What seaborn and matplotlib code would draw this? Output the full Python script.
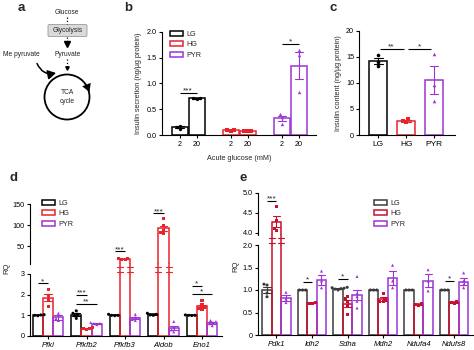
import numpy as np
import pandas as pd
import matplotlib
matplotlib.use("Agg")
import matplotlib.pyplot as plt
import matplotlib.transforms as mtransforms
from matplotlib.patches import Patch, FancyBboxPatch, Circle
from matplotlib.lines import Line2D
import seaborn as sns

# ---------------- data ----------------
CONDS = ["LG", "HG", "PYR"]

# panel b: insulin secretion (ng/ug protein), acute glucose 2 / 20 mM
B_GLUCOSE = ["2", "20"]
B_LG = [[0.18, 0.15, 0.11], [0.72, 0.71, 0.70]]
B_HG = [[0.10, 0.09, 0.08], [0.08, 0.07, 0.08]]
B_PYR = [[0.40, 0.35, 0.22], [1.65, 1.55, 0.83]]
B_SIG_COND = ["LG", "PYR"]
B_SIG_Y = [0.81, 1.76]
B_SIG_TEXT = ["***", "*"]

# panel c: insulin content (ng/ug protein)
C_LG = [15.4, 14.0, 13.2]
C_HG = [3.1, 2.6, 2.5]
C_PYR = [15.6, 9.6, 6.5]
C_SIG_PAIRS = [("LG", "HG"), ("HG", "PYR")]
C_SIG_Y = [16.5, 16.5]
C_SIG_TEXT = ["**", "*"]

# panel d: glycolytic genes (RQ)
D_GENES = ["Pfkl", "Pfkfb2", "Pfkfb3", "Aldob", "Eno1"]
D_LG = [[1.02, 1.00, 0.98, 1.03], [1.22, 1.10, 0.98, 0.85, 1.05],
        [1.05, 1.00, 0.98, 1.00], [1.10, 1.05, 1.00, 1.02], [1.00, 1.02, 0.99, 1.00]]
D_HG = [[2.25, 1.95, 1.75, 1.45], [0.40, 0.35, 0.32, 0.38], [22, 21, 19, 18],
        [115, 98, 88, 82, 80], [1.70, 1.50, 1.40, 1.30, 1.35]]
D_PYR = [[1.10, 0.85, 0.75], [0.65, 0.60, 0.55, 0.60], [1.05, 0.90, 0.80, 0.75],
         [0.70, 0.40, 0.30, 0.20], [0.75, 0.70, 0.60, 0.50, 0.65]]
D_SIG_GENE = ["Pfkl", "Pfkfb2", "Pfkfb2", "Pfkfb3", "Aldob", "Eno1", "Eno1"]
D_SIG_PAIR = [("LG", "HG"), ("LG", "HG"), ("LG", "PYR"), ("LG", "HG"),
              ("LG", "HG"), ("LG", "HG"), ("LG", "PYR")]
D_SIG_Y = [2.55, 2.0, 1.55, 38, 128, 2.42, 2.05]
D_SIG_TEXT = ["*", "***", "**", "***", "***", "*", "*"]

# panel e: TCA / OXPHOS genes (RQ)
E_GENES = ["Pdk1", "Idh2", "Sdha", "Mdh2", "Ndufa4", "Ndufs8"]
E_LG = [[1.13, 1.11, 0.93, 0.85], [1.0, 1.0, 1.0], [1.06, 1.04, 1.02, 1.00, 1.05, 1.03],
        [1.0, 1.0, 1.0], [1.0, 1.0, 1.0], [1.0, 1.0, 1.0]]
E_HG = [[4.65, 4.30, 4.10, 4.05], [0.72, 0.70, 0.71], [0.85, 0.80, 0.65, 0.45, 0.75],
        [0.92, 0.78, 0.75, 0.75], [0.70, 0.68, 0.66], [0.75, 0.72, 0.70]]
E_PYR = [[0.95, 0.80, 0.72], [1.42, 1.20, 1.05], [1.30, 0.92, 0.85, 0.75, 0.60],
         [1.55, 1.20, 1.05], [1.45, 1.20, 0.98], [1.38, 1.20, 1.12, 1.05]]
E_SIG_GENE = ["Pdk1", "Idh2", "Sdha", "Ndufs8"]
E_SIG_Y = [4.8, 1.18, 1.24, 1.20]
E_SIG_TEXT = ["***", "*", "*", "*"]

# ---------------- style ----------------
COLORS = ["#000000", "#E8232B", "#9B35D6"]
E_COLORS = ["#3A3A3A", "#C8102E", "#9B35D6"]
MARKERS = ["o", "s", "^"]

sns.set_theme(style="ticks")
plt.rcParams["font.family"] = ["Liberation Sans", "DejaVu Sans"]
plt.rcParams.update({
    "font.size": 5.2, "axes.linewidth": 0.8,
    "xtick.major.width": 0.8, "ytick.major.width": 0.8,
    "xtick.major.size": 2.2, "ytick.major.size": 2.2,
    "xtick.labelsize": 5.2, "ytick.labelsize": 5.2,
    "xtick.major.pad": 1.8, "ytick.major.pad": 1.5,
    "axes.labelsize": 5.2, "axes.edgecolor": "black",
    "xtick.color": "black", "ytick.color": "black",
})

W, H = 474, 350
fig = plt.figure(figsize=(W / 100, H / 100), dpi=100)


def rect(x0, y0, x1, y1):
    return [x0 / W, 1 - y1 / H, (x1 - x0) / W, (y1 - y0) / H]


def sig(ax, x0, x1, y, text):
    ax.plot([x0, x1], [y, y], color="black", lw=0.8, solid_capstyle="butt", clip_on=False)
    ax.annotate(text, xy=((x0 + x1) / 2, y), xytext=(0, -1.2), textcoords="offset points",
                ha="center", va="bottom", fontsize=6, annotation_clip=False)


def style(ax):
    sns.despine(ax=ax)
    ax.set_xlabel("")
    ax.set_ylabel("")


def legend(ax, colors, x, y):
    handles = [Patch(facecolor="white", edgecolor=c, linewidth=1.1) for c in colors]
    ax.legend(handles, CONDS, loc="upper left", bbox_to_anchor=(x / W, 1 - y / H),
              bbox_transform=fig.transFigure, frameon=False, fontsize=5.2,
              handlelength=1.8, handleheight=0.7, labelspacing=0.45, borderpad=0,
              borderaxespad=0, handletextpad=0.5)


# ---------------- panel a : diagram ----------------
ax_a = fig.add_axes(rect(0, 0, 125, 170))
ax_a.set_xlim(0, 125)
ax_a.set_ylim(170, 0)
ax_a.axis("off")
ax_a.text(67, 13, "Glucose", ha="center", va="center", fontsize=4.8, color="#222")
ax_a.plot([67, 67], [17, 24], ls=":", color="black", lw=0.9)
ax_a.add_patch(FancyBboxPatch((48, 24.5), 39, 12, boxstyle="round,pad=0,rounding_size=1.5",
                              fc="#DADADA", ec="#9A9A9A", lw=0.6))
ax_a.text(67.5, 30.5, "Glycolysis", ha="center", va="center", fontsize=4.8, color="#222")
ax_a.plot([67, 67], [37, 43], ls=":", color="black", lw=0.9)
ax_a.plot([67], [44], marker="v", ms=4, color="black")
ax_a.text(68, 54, "Pyruvate", ha="center", va="center", fontsize=4.8, color="#222")
ax_a.text(21, 54, "Me pyruvate", ha="center", va="center", fontsize=4.8, color="#222")
ax_a.plot([67, 67], [59, 68], ls=":", color="black", lw=0.9)
ax_a.plot([67], [68], marker="v", ms=2.5, color="black")
ax_a.add_patch(Circle((67, 97), 22.5, fill=False, ec="black", lw=1.3))
ax_a.annotate("", xy=(89.5, 92), xytext=(86, 83.5),
              arrowprops=dict(arrowstyle="-|>,head_length=0.7,head_width=0.4", color="black",
                              lw=0.1, mutation_scale=8, shrinkA=0, shrinkB=0))
ax_a.annotate("", xy=(56, 73), xytext=(37, 63.5),
              arrowprops=dict(arrowstyle="-|>,head_length=0.6,head_width=0.35", color="black",
                              lw=1.1, mutation_scale=8, shrinkA=0, shrinkB=0,
                              connectionstyle="arc3,rad=0.4"))
ax_a.text(67, 97, "TCA\ncycle", ha="center", va="center", fontsize=4.8, color="#222",
          linespacing=1.3)

# ---------------- panel b ----------------
ax_b = fig.add_axes(rect(161.7, 31.7, 316, 135))
rows = []
for ci, (cond, lists) in enumerate(zip(CONDS, [B_LG, B_HG, B_PYR])):
    for gi, vals in enumerate(lists):
        for v in vals:
            rows.append((cond, 3 * ci + gi, B_GLUCOSE[gi], v))
df_b = pd.DataFrame(rows, columns=["cond", "pos", "glucose", "val"])
for cond, col, mk in zip(CONDS, COLORS, MARKERS):
    sub = df_b[df_b.cond == cond]
    sns.barplot(data=sub, x="pos", y="val", native_scale=True, width=0.95, fill=False,
                color=col, linewidth=1.1, errorbar="se", capsize=0.5,
                err_kws={"color": col, "linewidth": 0.8}, ax=ax_b)
    sns.swarmplot(data=sub, x="pos", y="val", native_scale=True, color=col, marker=mk,
                  size=2.4, linewidth=0, ax=ax_b)
style(ax_b)
ax_b.set_ylim(0, 2.0)
ax_b.set_yticks([0, 0.5, 1.0, 1.5, 2.0])
ax_b.yaxis.set_major_formatter(matplotlib.ticker.FormatStrFormatter("%.1f"))
ticks = sorted(df_b.pos.unique())
ax_b.set_xticks(ticks)
ax_b.set_xticklabels([B_GLUCOSE[int(p) % 3] for p in ticks])
ax_b.set_xlim(-1.05, 8.0)
ax_b.set_xlabel("Acute glucose (mM)", labelpad=5)
ax_b.set_ylabel("Insulin secretion (ng/µg protein)", labelpad=3)
for cond, y, t in zip(B_SIG_COND, B_SIG_Y, B_SIG_TEXT):
    p = df_b[df_b.cond == cond].pos
    sig(ax_b, p.min(), p.max(), y, t)
legend(ax_b, COLORS, 170, 31)

# ---------------- panel c ----------------
ax_c = fig.add_axes(rect(359.3, 30.7, 455, 135))
rows = [(cond, v) for cond, vals in zip(CONDS, [C_LG, C_HG, C_PYR]) for v in vals]
df_c = pd.DataFrame(rows, columns=["cond", "val"])
for cond, col, mk in zip(CONDS, COLORS, MARKERS):
    sub = df_c[df_c.cond == cond]
    sns.barplot(data=sub, x="cond", y="val", order=CONDS, width=0.65, fill=False,
                color=col, linewidth=1.1, errorbar="se", capsize=0.3,
                err_kws={"color": col, "linewidth": 0.8}, ax=ax_c)
    sns.swarmplot(data=sub, x="cond", y="val", order=CONDS, color=col, marker=mk,
                  size=2.6, linewidth=0, ax=ax_c)
style(ax_c)
ax_c.set_ylim(0, 20)
ax_c.set_yticks([0, 5, 10, 15, 20])
ax_c.set_xlim(-0.68, 2.74)
ax_c.tick_params(axis="x", labelsize=6)
ax_c.set_ylabel("Insulin content (ng/µg protein)", labelpad=3)
for (c0, c1), y, t in zip(C_SIG_PAIRS, C_SIG_Y, C_SIG_TEXT):
    sig(ax_c, CONDS.index(c0) + 0.05, CONDS.index(c1) - 0.1, y, t)


# ---------------- grouped helpers ----------------
def long_df(genes, lists_per_cond):
    rows = []
    for cond, lists in zip(CONDS, lists_per_cond):
        for g, vals in zip(genes, lists):
            for v in vals:
                rows.append((g, cond, v))
    return pd.DataFrame(rows, columns=["gene", "cond", "val"])


def grouped(ax, df, genes, colors):
    pal = dict(zip(CONDS, colors))
    for cond, col, mk in zip(CONDS, colors, MARKERS):
        sub = df[df.cond == cond]
        sns.barplot(data=sub, x="gene", y="val", hue="cond", order=genes, hue_order=CONDS,
                    palette=pal, dodge=True, width=0.8, gap=0, fill=False, linewidth=1.1,
                    errorbar="se", capsize=0.6, err_kws={"color": col, "linewidth": 0.8},
                    legend=False, ax=ax)
        sns.swarmplot(data=sub, x="gene", y="val", hue="cond", order=genes, hue_order=CONDS,
                      palette=pal, dodge=True, marker=mk, size=2.2, linewidth=0,
                      legend=False, ax=ax)
    style(ax)


def bridge(ax_top, ax_bot, half):
    ylo = ax_top.get_ylim()[0]
    y_top = ax_top.get_position().y0
    y_bot = ax_bot.get_position().y1
    gap = y_top - y_bot
    tr = mtransforms.blended_transform_factory(ax_bot.transData, fig.transFigure)
    for p in ax_top.patches:
        if p.get_y() + p.get_height() > ylo:
            ec = p.get_edgecolor()
            for xe in (p.get_x(), p.get_x() + p.get_width()):
                ax_bot.add_line(Line2D([xe, xe], [y_bot, y_top], transform=tr, color=ec,
                                       lw=p.get_linewidth(), clip_on=False))
                for yy in (y_bot + 0.25 * gap, y_top - 0.3 * gap):
                    ax_bot.add_line(Line2D([xe - half, xe + half], [yy, yy], transform=tr,
                                           color=ec, lw=0.8, clip_on=False))


OFF = {c: (i - 1) * 0.8 / 3 for i, c in enumerate(CONDS)}

# ---------------- panel d ----------------
ax_dt = fig.add_axes(rect(30, 204, 222, 264))
ax_db = fig.add_axes(rect(30, 274, 222, 336))
df_d = long_df(D_GENES, [D_LG, D_HG, D_PYR])
for ax in (ax_dt, ax_db):
    grouped(ax, df_d, D_GENES, COLORS)
    ax.set_xlim(-0.47, 4.52)
ax_dt.set_ylim(8, 150)
ax_dt.set_yticks([50, 100, 150])
ax_dt.spines["bottom"].set_visible(False)
ax_dt.tick_params(axis="x", bottom=False, labelbottom=False)
ax_db.set_ylim(0, 3)
ax_db.set_yticks([0, 1, 2, 3])
for lab in ax_db.get_xticklabels():
    lab.set_fontstyle("italic")
ax_db.tick_params(axis="x", labelsize=5.5)
for g, (c0, c1), y, t in zip(D_SIG_GENE, D_SIG_PAIR, D_SIG_Y, D_SIG_TEXT):
    gi = D_GENES.index(g)
    ax = ax_dt if y > 3 else ax_db
    sig(ax, gi + OFF[c0], gi + OFF[c1], y, t)
bridge(ax_dt, ax_db, 0.08)
legend(ax_dt, COLORS, 42, 200)
fig.text(7 / W, 1 - 268 / H, "RQ", rotation=90, ha="center", va="center", fontsize=5.5)

# ---------------- panel e ----------------
ax_et = fig.add_axes(rect(258, 192.7, 473, 235))
ax_eb = fig.add_axes(rect(258, 245, 473, 335))
df_e = long_df(E_GENES, [E_LG, E_HG, E_PYR])
for ax in (ax_et, ax_eb):
    grouped(ax, df_e, E_GENES, E_COLORS)
    ax.set_xlim(-0.52, 5.53)
ax_et.set_ylim(3.95, 5.0)
ax_et.set_yticks([4.0, 4.5, 5.0])
ax_et.set_yticklabels(["4.0", "4.5", "5.0"])
ax_et.spines["bottom"].set_visible(False)
ax_et.tick_params(axis="x", bottom=False, labelbottom=False)
ax_eb.set_ylim(0, 2.0)
ax_eb.set_yticks([0, 0.5, 1.0, 1.5, 2.0])
ax_eb.set_yticklabels(["0", "0.5", "1.0", "1.5", "2.0"])
for lab in ax_eb.get_xticklabels():
    lab.set_fontstyle("italic")
ax_eb.tick_params(axis="x", labelsize=5.5)
for g, y, t in zip(E_SIG_GENE, E_SIG_Y, E_SIG_TEXT):
    gi = E_GENES.index(g)
    ax = ax_et if y > 2 else ax_eb
    sig(ax, gi + OFF["LG"], gi + OFF["HG"], y, t)
bridge(ax_et, ax_eb, 0.08)
legend(ax_et, E_COLORS, 374, 200)
fig.text(236 / W, 1 - 266 / H, "RQ", rotation=90, ha="center", va="center", fontsize=5.5)

# ---------------- panel letters ----------------
for letter, (x, y) in zip("abcde", [(21, 8), (128, 8), (333, 8), (13.5, 178), (243, 178)]):
    fig.text(x / W, 1 - y / H, letter, ha="center", va="center", fontsize=9.5,
             fontweight="bold")

fig.savefig("out.png", dpi=100)
